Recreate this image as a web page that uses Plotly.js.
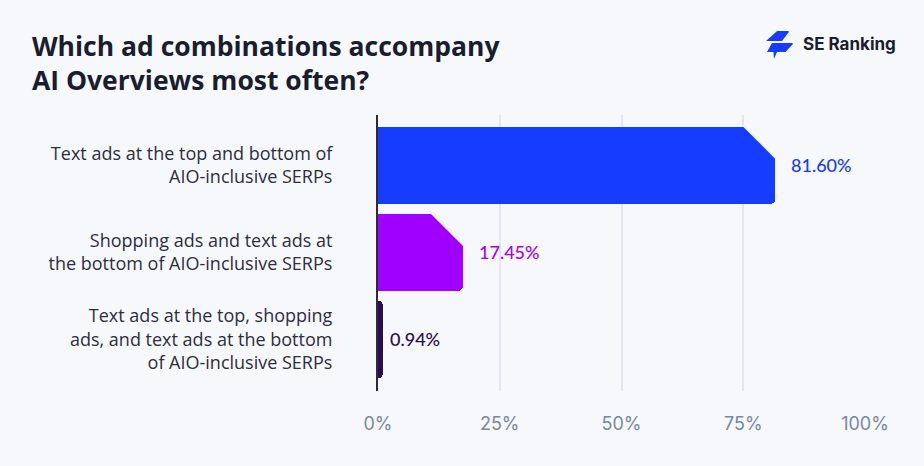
<!DOCTYPE html>
<html>
<head>
<meta charset="utf-8">
<script src="https://cdn.plot.ly/plotly-3.0.1.min.js"></script>
<style>
  html, body { margin: 0; padding: 0; background: #f6f8fc; }
  #chart { width: 924px; height: 466px; }
</style>
</head>
<body>
<div id="chart"></div>
<script>
// Ad combinations seen alongside AI Overviews (share of SERPs, %)
const categories = [
  "Text ads at the top and bottom of<br>AIO-inclusive SERPs",
  "Shopping ads and text ads at<br>the bottom of AIO-inclusive SERPs",
  "Text ads at the top, shopping<br>ads, and text ads at the bottom<br>of AIO-inclusive SERPs"
];
const shares = [81.60, 17.45, 0.94];
const barColors = ["#163cff", "#a000ff", "#2a0b55"];
const xTickValues = [0, 25, 50, 75, 100];
const xTickLabels = ["0%", "25%", "50%", "75%", "100%"];
const titleText = "Which ad combinations accompany<br>AI Overviews most often?";

const BG = "#f6f8fc";
const BAR_WIDTH = 0.885;
const CHAMFER_PX = 32;

// plot area edges in page pixels (used to place the header items)
const M = { l: 378, r: 59, t: 115, b: 75 };
const plotW = 924 - M.l - M.r, plotH = 466 - M.t - M.b;
const px2x = px => (px - M.l) / plotW;
const py2y = py => (466 - M.b - py) / plotH;

const positions = categories.map((_, i) => i);

const trace = {
  type: "bar",
  orientation: "h",
  x: shares,
  y: positions,
  width: BAR_WIDTH,
  marker: { color: barColors, cornerradius: 5, line: { width: 0 } },
  hoverinfo: "skip"
};

// Value labels placed just past each bar's end
const annotations = shares.map((v, i) => ({
  x: v, y: i, xref: "x", yref: "y",
  text: v.toFixed(2) + "%",
  showarrow: false, xanchor: "left", yanchor: "middle",
  xshift: v < 5 ? 5 : 14,
  font: { family: "Lato, sans-serif", size: 18, color: barColors[i], weight: 500 }
}));

// Brand wordmark
annotations.push({
  xref: "paper", yref: "paper", x: px2x(801), y: py2y(44),
  xanchor: "left", yanchor: "middle", showarrow: false,
  text: "<b>SE Ranking</b>",
  font: { family: "Inter, sans-serif", size: 17, color: "#1a1d2e" }
});

// Cut the top-right corner of each long bar at 45 degrees
const shapes = [];
shares.forEach((v, i) => {
  if (v < 5) return;
  const c = CHAMFER_PX;
  shapes.push({
    type: "path", layer: "above",
    xref: "x", yref: "y",
    xsizemode: "pixel", ysizemode: "pixel",
    xanchor: v, yanchor: i - BAR_WIDTH / 2,
    path: `M ${-c - 2} 2 L 2 2 L 2 ${-c - 2} Z`,
    fillcolor: BG, line: { width: 0 }
  });
});

const logoSvg =
  '<svg xmlns="http://www.w3.org/2000/svg" width="28" height="34" viewBox="0 0 28 34">' +
  '<path d="M11 2 Q11.5 1 13 1 L23 1 Q24.5 1 23.5 2.5 L17 11 L1 11 Z" fill="#163cff"/>' +
  '<path d="M7 13 L27 13 Q28.5 13 27.5 14.5 L20.5 22 L12 22 L9 29 L8.5 22 L2 22 Z" fill="#163cff"/>' +
  '</svg>';

const layout = {
  width: 924, height: 466,
  paper_bgcolor: BG, plot_bgcolor: BG,
  margin: M,
  showlegend: false,
  title: {
    text: titleText,
    xref: "container", yref: "container",
    x: 32 / 924, xanchor: "left",
    y: 1 - 56 / 466, yanchor: "middle",
    font: { family: "'Open Sans', sans-serif", size: 26.5, color: "#1a1d2e", weight: 700 }
  },
  xaxis: {
    range: [0, 100],
    tickvals: xTickValues, ticktext: xTickLabels,
    showgrid: true, gridcolor: "#e1e6ef", gridwidth: 2,
    zeroline: false, showline: false, ticks: "",
    ticklabelstandoff: 20,
    tickfont: { family: "Inter, sans-serif", size: 18, color: "#7b879d" },
    fixedrange: true
  },
  yaxis: {
    range: [2.592, -0.580],
    tickvals: positions, ticktext: categories,
    showgrid: false, zeroline: false,
    showline: true, linecolor: "#2b2b3b", linewidth: 2,
    ticks: "", ticklabelstandoff: 40,
    tickfont: { family: "'Open Sans', sans-serif", size: 18, color: "#2e2e3e" },
    fixedrange: true
  },
  bargap: 0,
  annotations: annotations,
  shapes: shapes,
  images: [{
    source: "data:image/svg+xml;base64," + btoa(logoSvg),
    xref: "paper", yref: "paper",
    x: px2x(765), y: py2y(30),
    sizex: 28 / plotW, sizey: 34 / plotH,
    xanchor: "left", yanchor: "top", sizing: "stretch", layer: "above"
  }]
};

Plotly.newPlot("chart", [trace], layout, { displayModeBar: false, staticPlot: true });
</script>
</body>
</html>
